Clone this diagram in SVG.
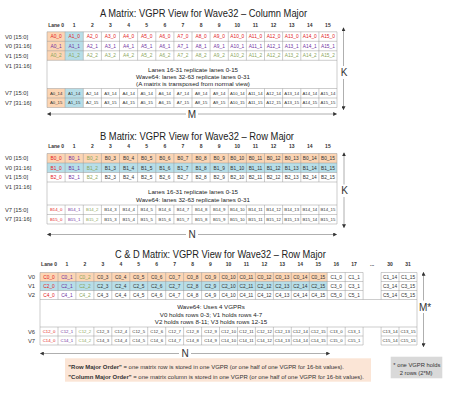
<svg xmlns="http://www.w3.org/2000/svg" width="474" height="394" viewBox="0 0 474 394">
<defs>
<style>
text{font-family:"Liberation Sans",Arial,sans-serif}
.ttl{font-size:10px;fill:#222;text-anchor:middle}
.hd{font-size:5px;font-weight:bold;fill:#333;text-anchor:middle}
.rl{font-size:5.8px;fill:#333}
.c{font-size:4.8px;text-anchor:middle;fill:#333}
.cs{font-size:4.3px;text-anchor:middle;fill:#333}
.r{fill:#e3201b}.p{fill:#7030a0}.o{fill:#8aa55a}
.mt{font-size:6.2px;text-anchor:middle;fill:#222}
.grid{fill:none;stroke:#9a9a9a;stroke-width:0.5}
.ar{stroke:#9a9a9a;stroke-width:0.8;fill:none}
.lbl{font-size:10px;fill:#333;text-anchor:middle}
.nt{font-size:5.8px;fill:#333}
.or{fill:#fcd5b4}.bl{fill:#b7dee8}
</style>
<marker id="ah" viewBox="0 0 6 6" refX="5" refY="3" markerWidth="4" markerHeight="4" orient="auto-start-reverse" markerUnits="userSpaceOnUse"><path d="M0 0L6 3L0 6z" fill="#333"/></marker>
</defs>
<rect width="474" height="394" fill="#fff"/>

<g id="matrixA">
<text class="ttl" x="203.5" y="17" textLength="207" lengthAdjust="spacingAndGlyphs">A Matrix: VGPR View for Wave32 – Column Major</text>
<rect class="or" x="47" y="31.8" width="18.1" height="28.5"/><rect class="or" x="47" y="88.5" width="18.1" height="19"/>
<rect class="bl" x="65.1" y="31.8" width="18.2" height="28.5"/><rect class="bl" x="65.1" y="88.5" width="18.2" height="19"/>
<path class="grid" d="M47 31.8H337V107.5H47ZM47 41.3H337M47 50.8H337M47 60.3H337M47 88.5H337M47 98H337M65.1 31.8V60.3M83.3 31.8V60.3M101.4 31.8V60.3M119.5 31.8V60.3M137.6 31.8V60.3M155.8 31.8V60.3M173.9 31.8V60.3M192 31.8V60.3M210.1 31.8V60.3M228.3 31.8V60.3M246.4 31.8V60.3M264.5 31.8V60.3M282.6 31.8V60.3M300.8 31.8V60.3M318.9 31.8V60.3M65.1 88.5V107.5M83.3 88.5V107.5M101.4 88.5V107.5M119.5 88.5V107.5M137.6 88.5V107.5M155.8 88.5V107.5M173.9 88.5V107.5M192 88.5V107.5M210.1 88.5V107.5M228.3 88.5V107.5M246.4 88.5V107.5M264.5 88.5V107.5M282.6 88.5V107.5M300.8 88.5V107.5M318.9 88.5V107.5"/>
<text class="hd" y="26.8"><tspan x="56.1">Lane 0</tspan><tspan x="74.2">1</tspan><tspan x="92.3">2</tspan><tspan x="110.4">3</tspan><tspan x="128.6">4</tspan><tspan x="146.7">5</tspan><tspan x="164.8">6</tspan><tspan x="182.9">7</tspan><tspan x="201.1">8</tspan><tspan x="219.2">9</tspan><tspan x="237.3">10</tspan><tspan x="255.4">11</tspan><tspan x="273.6">12</tspan><tspan x="291.7">13</tspan><tspan x="309.8">14</tspan><tspan x="327.9">15</tspan></text>
<text class="rl" x="5" y="38.5">V0 [15:0]</text>
<text class="rl" x="5" y="48">V0 [31:16]</text>
<text class="rl" x="5" y="57.5">V1 [15:0]</text>
<text class="rl" x="5" y="67.5">V1 [31:16]</text>
<text class="rl" x="5" y="95.2">V7 [15:0]</text>
<text class="rl" x="5" y="104.7">V7 [31:16]</text>
<text class="c r" y="38.3"><tspan x="56.1">A0_0</tspan><tspan x="74.2">A1_0</tspan><tspan x="92.3">A2_0</tspan><tspan x="110.4">A3_0</tspan><tspan x="128.6">A4_0</tspan><tspan x="146.7">A5_0</tspan><tspan x="164.8">A6_0</tspan><tspan x="182.9">A7_0</tspan><tspan x="201.1">A8_0</tspan><tspan x="219.2">A9_0</tspan><tspan x="237.3">A10_0</tspan><tspan x="255.4">A11_0</tspan><tspan x="273.6">A12_0</tspan><tspan x="291.7">A13_0</tspan><tspan x="309.8">A14_0</tspan><tspan x="327.9">A15_0</tspan></text>
<text class="c p" y="47.8"><tspan x="56.1">A0_1</tspan><tspan x="74.2">A1_1</tspan><tspan x="92.3">A2_1</tspan><tspan x="110.4">A3_1</tspan><tspan x="128.6">A4_1</tspan><tspan x="146.7">A5_1</tspan><tspan x="164.8">A6_1</tspan><tspan x="182.9">A7_1</tspan><tspan x="201.1">A8_1</tspan><tspan x="219.2">A9_1</tspan><tspan x="237.3">A10_1</tspan><tspan x="255.4">A11_1</tspan><tspan x="273.6">A12_1</tspan><tspan x="291.7">A13_1</tspan><tspan x="309.8">A14_1</tspan><tspan x="327.9">A15_1</tspan></text>
<text class="c o" y="57.3"><tspan x="56.1">A0_2</tspan><tspan x="74.2">A1_2</tspan><tspan x="92.3">A2_2</tspan><tspan x="110.4">A3_2</tspan><tspan x="128.6">A4_2</tspan><tspan x="146.7">A5_2</tspan><tspan x="164.8">A6_2</tspan><tspan x="182.9">A7_2</tspan><tspan x="201.1">A8_2</tspan><tspan x="219.2">A9_2</tspan><tspan x="237.3">A10_2</tspan><tspan x="255.4">A11_2</tspan><tspan x="273.6">A12_2</tspan><tspan x="291.7">A13_2</tspan><tspan x="309.8">A14_2</tspan><tspan x="327.9">A15_2</tspan></text>
<text class="mt" x="193" y="72.3">Lanes 16-31 replicate lanes 0-15</text>
<text class="mt" x="193" y="79.2">Wave64: lanes 32-63 replicate lanes 0-31</text>
<text class="mt" x="193" y="86.3">(A matrix is transposed from normal view)</text>
<text class="cs" y="94.9"><tspan x="56.1">A0_14</tspan><tspan x="74.2">A1_14</tspan><tspan x="92.3">A2_14</tspan><tspan x="110.4">A3_14</tspan><tspan x="128.6">A4_14</tspan><tspan x="146.7">A5_14</tspan><tspan x="164.8">A6_14</tspan><tspan x="182.9">A7_14</tspan><tspan x="201.1">A8_14</tspan><tspan x="219.2">A9_14</tspan><tspan x="237.3">A10_14</tspan><tspan x="255.4">A11_14</tspan><tspan x="273.6">A12_14</tspan><tspan x="291.7">A13_14</tspan><tspan x="309.8">A14_14</tspan><tspan x="327.9">A15_14</tspan></text>
<text class="cs" y="104.4"><tspan x="56.1">A0_15</tspan><tspan x="74.2">A1_15</tspan><tspan x="92.3">A2_15</tspan><tspan x="110.4">A3_15</tspan><tspan x="128.6">A4_15</tspan><tspan x="146.7">A5_15</tspan><tspan x="164.8">A6_15</tspan><tspan x="182.9">A7_15</tspan><tspan x="201.1">A8_15</tspan><tspan x="219.2">A9_15</tspan><tspan x="237.3">A10_15</tspan><tspan x="255.4">A11_15</tspan><tspan x="273.6">A12_15</tspan><tspan x="291.7">A13_15</tspan><tspan x="309.8">A14_15</tspan><tspan x="327.9">A15_15</tspan></text>
</g>

<g id="matrixB">
<text class="ttl" x="197" y="140" textLength="194" lengthAdjust="spacingAndGlyphs">B Matrix: VGPR View for Wave32 – Row Major</text>
<rect class="or" x="47" y="153.5" width="290" height="9.5"/>
<rect class="bl" x="47" y="163" width="290" height="9.5"/>
<path class="grid" d="M47 153.5H337V224H47ZM47 163H337M47 172.5H337M47 182H337M47 205H337M47 214.5H337M65.1 153.5V182M83.3 153.5V182M101.4 153.5V182M119.5 153.5V182M137.6 153.5V182M155.8 153.5V182M173.9 153.5V182M192 153.5V182M210.1 153.5V182M228.3 153.5V182M246.4 153.5V182M264.5 153.5V182M282.6 153.5V182M300.8 153.5V182M318.9 153.5V182M65.1 205V224M83.3 205V224M101.4 205V224M119.5 205V224M137.6 205V224M155.8 205V224M173.9 205V224M192 205V224M210.1 205V224M228.3 205V224M246.4 205V224M264.5 205V224M282.6 205V224M300.8 205V224M318.9 205V224"/>
<text class="hd" y="148.4"><tspan x="56.1">Lane 0</tspan><tspan x="74.2">1</tspan><tspan x="92.3">2</tspan><tspan x="110.4">3</tspan><tspan x="128.6">4</tspan><tspan x="146.7">5</tspan><tspan x="164.8">6</tspan><tspan x="182.9">7</tspan><tspan x="201.1">8</tspan><tspan x="219.2">9</tspan><tspan x="237.3">10</tspan><tspan x="255.4">11</tspan><tspan x="273.6">12</tspan><tspan x="291.7">13</tspan><tspan x="309.8">14</tspan><tspan x="327.9">15</tspan></text>
<text class="rl" x="5" y="160.2">V0 [15:0]</text>
<text class="rl" x="5" y="169.7">V0 [31:16]</text>
<text class="rl" x="5" y="179.2">V1 [15:0]</text>
<text class="rl" x="5" y="188.7">V1 [31:16]</text>
<text class="rl" x="5" y="211.7">V7 [15:0]</text>
<text class="rl" x="5" y="221.2">V7 [31:16]</text>
<text class="c" y="160"><tspan x="56.1" class="r">B0_0</tspan><tspan x="74.2" class="p">B0_1</tspan><tspan x="92.3" class="o">B0_2</tspan><tspan x="110.4">B0_3</tspan><tspan x="128.6">B0_4</tspan><tspan x="146.7">B0_5</tspan><tspan x="164.8">B0_6</tspan><tspan x="182.9">B0_7</tspan><tspan x="201.1">B0_8</tspan><tspan x="219.2">B0_9</tspan><tspan x="237.3">B0_10</tspan><tspan x="255.4">B0_11</tspan><tspan x="273.6">B0_12</tspan><tspan x="291.7">B0_13</tspan><tspan x="309.8">B0_14</tspan><tspan x="327.9">B0_15</tspan></text>
<text class="c" y="169.5"><tspan x="56.1" class="r">B1_0</tspan><tspan x="74.2" class="p">B1_1</tspan><tspan x="92.3" class="o">B1_2</tspan><tspan x="110.4">B1_3</tspan><tspan x="128.6">B1_4</tspan><tspan x="146.7">B1_5</tspan><tspan x="164.8">B1_6</tspan><tspan x="182.9">B1_7</tspan><tspan x="201.1">B1_8</tspan><tspan x="219.2">B1_9</tspan><tspan x="237.3">B1_10</tspan><tspan x="255.4">B1_11</tspan><tspan x="273.6">B1_12</tspan><tspan x="291.7">B1_13</tspan><tspan x="309.8">B1_14</tspan><tspan x="327.9">B1_15</tspan></text>
<text class="c" y="179"><tspan x="56.1" class="r">B2_0</tspan><tspan x="74.2" class="p">B2_1</tspan><tspan x="92.3" class="o">B2_2</tspan><tspan x="110.4">B2_3</tspan><tspan x="128.6">B2_4</tspan><tspan x="146.7">B2_5</tspan><tspan x="164.8">B2_6</tspan><tspan x="182.9">B2_7</tspan><tspan x="201.1">B2_8</tspan><tspan x="219.2">B2_9</tspan><tspan x="237.3">B2_10</tspan><tspan x="255.4">B2_11</tspan><tspan x="273.6">B2_12</tspan><tspan x="291.7">B2_13</tspan><tspan x="309.8">B2_14</tspan><tspan x="327.9">B2_15</tspan></text>
<text class="mt" x="193" y="193.8">Lanes 16-31 replicate lanes 0-15</text>
<text class="mt" x="193" y="202.2">Wave64: lanes 32-63 replicate lanes 0-31</text>
<text class="cs" y="211.4"><tspan x="56.1" class="r">B14_0</tspan><tspan x="74.2" class="p">B14_1</tspan><tspan x="92.3" class="o">B14_2</tspan><tspan x="110.4">B14_3</tspan><tspan x="128.6">B14_4</tspan><tspan x="146.7">B14_5</tspan><tspan x="164.8">B14_6</tspan><tspan x="182.9">B14_7</tspan><tspan x="201.1">B14_8</tspan><tspan x="219.2">B14_9</tspan><tspan x="237.3">B14_10</tspan><tspan x="255.4">B14_11</tspan><tspan x="273.6">B14_12</tspan><tspan x="291.7">B14_13</tspan><tspan x="309.8">B14_14</tspan><tspan x="327.9">B14_15</tspan></text>
<text class="cs" y="220.9"><tspan x="56.1" class="r">B15_0</tspan><tspan x="74.2" class="p">B15_1</tspan><tspan x="92.3" class="o">B15_2</tspan><tspan x="110.4">B15_3</tspan><tspan x="128.6">B15_4</tspan><tspan x="146.7">B15_5</tspan><tspan x="164.8">B15_6</tspan><tspan x="182.9">B15_7</tspan><tspan x="201.1">B15_8</tspan><tspan x="219.2">B15_9</tspan><tspan x="237.3">B15_10</tspan><tspan x="255.4">B15_11</tspan><tspan x="273.6">B15_12</tspan><tspan x="291.7">B15_13</tspan><tspan x="309.8">B15_14</tspan><tspan x="327.9">B15_15</tspan></text>
</g>

<g id="matrixCD">
<text class="ttl" x="220.4" y="258" textLength="210.7" lengthAdjust="spacingAndGlyphs">C &amp; D Matrix: VGPR View for Wave32 – Row Major</text>
<rect class="or" x="40" y="272.5" width="287.2" height="9"/>
<rect class="bl" x="40" y="281.5" width="287.2" height="9"/>
<path class="grid" d="M40 272.5H363.1M40 281.5H363.1M40 290.5H363.1M40 299.5H417M381.1 272.5H417M381.1 281.5H417M381.1 290.5H417M40 327H417M40 336H363.1M40 345H363.1M381.1 336H417M381.1 345H417M40 272.5V345M417 272.5V345M58 272.5V299.5M75.9 272.5V299.5M93.9 272.5V299.5M111.8 272.5V299.5M129.8 272.5V299.5M147.7 272.5V299.5M165.7 272.5V299.5M183.6 272.5V299.5M201.6 272.5V299.5M219.5 272.5V299.5M237.5 272.5V299.5M255.4 272.5V299.5M273.4 272.5V299.5M291.3 272.5V299.5M309.3 272.5V299.5M327.2 272.5V299.5M345.2 272.5V299.5M363.1 272.5V299.5M381.1 272.5V299.5M399 272.5V299.5M58 327V345M75.9 327V345M93.9 327V345M111.8 327V345M129.8 327V345M147.7 327V345M165.7 327V345M183.6 327V345M201.6 327V345M219.5 327V345M237.5 327V345M255.4 327V345M273.4 327V345M291.3 327V345M309.3 327V345M327.2 327V345M345.2 327V345M363.1 327V345M381.1 327V345M399 327V345"/>
<text class="hd" y="266"><tspan x="49">Lane 0</tspan><tspan x="66.9">1</tspan><tspan x="84.9">2</tspan><tspan x="102.8">3</tspan><tspan x="120.8">4</tspan><tspan x="138.7">5</tspan><tspan x="156.7">6</tspan><tspan x="174.6">7</tspan><tspan x="192.6">8</tspan><tspan x="210.5">9</tspan><tspan x="228.5">10</tspan><tspan x="246.4">11</tspan><tspan x="264.4">12</tspan><tspan x="282.3">13</tspan><tspan x="300.3">14</tspan><tspan x="318.2">15</tspan><tspan x="336.2">16</tspan><tspan x="354.1">17</tspan><tspan x="372.1">...</tspan><tspan x="390">30</tspan><tspan x="408">31</tspan></text>
<text class="rl" x="28" y="279">V0</text>
<text class="rl" x="28" y="288">V1</text>
<text class="rl" x="28" y="297">V2</text>
<text class="rl" x="28" y="333.5">V6</text>
<text class="rl" x="28" y="342.5">V7</text>
<text class="c" y="278.7"><tspan x="49" class="r">C0_0</tspan><tspan x="66.9" class="p">C0_1</tspan><tspan x="84.9" class="o">C0_2</tspan><tspan x="102.8">C0_3</tspan><tspan x="120.8">C0_4</tspan><tspan x="138.7">C0_5</tspan><tspan x="156.7">C0_6</tspan><tspan x="174.6">C0_7</tspan><tspan x="192.6">C0_8</tspan><tspan x="210.5">C0_9</tspan><tspan x="228.5">C0_10</tspan><tspan x="246.4">C0_11</tspan><tspan x="264.4">C0_12</tspan><tspan x="282.3">C0_13</tspan><tspan x="300.3">C0_14</tspan><tspan x="318.2">C0_15</tspan><tspan x="336.2">C1_0</tspan><tspan x="354.1">C1_1</tspan><tspan x="390">C1_14</tspan><tspan x="408">C1_15</tspan></text>
<text class="c" y="287.7"><tspan x="49" class="r">C2_0</tspan><tspan x="66.9" class="p">C2_1</tspan><tspan x="84.9" class="o">C2_2</tspan><tspan x="102.8">C2_3</tspan><tspan x="120.8">C2_4</tspan><tspan x="138.7">C2_5</tspan><tspan x="156.7">C2_6</tspan><tspan x="174.6">C2_7</tspan><tspan x="192.6">C2_8</tspan><tspan x="210.5">C2_9</tspan><tspan x="228.5">C2_10</tspan><tspan x="246.4">C2_11</tspan><tspan x="264.4">C2_12</tspan><tspan x="282.3">C2_13</tspan><tspan x="300.3">C2_14</tspan><tspan x="318.2">C2_15</tspan><tspan x="336.2">C3_0</tspan><tspan x="354.1">C3_1</tspan><tspan x="390">C3_14</tspan><tspan x="408">C3_15</tspan></text>
<text class="c" y="296.7"><tspan x="49" class="r">C4_0</tspan><tspan x="66.9" class="p">C4_1</tspan><tspan x="84.9" class="o">C4_2</tspan><tspan x="102.8">C4_3</tspan><tspan x="120.8">C4_4</tspan><tspan x="138.7">C4_5</tspan><tspan x="156.7">C4_6</tspan><tspan x="174.6">C4_7</tspan><tspan x="192.6">C4_8</tspan><tspan x="210.5">C4_9</tspan><tspan x="228.5">C4_10</tspan><tspan x="246.4">C4_11</tspan><tspan x="264.4">C4_12</tspan><tspan x="282.3">C4_13</tspan><tspan x="300.3">C4_14</tspan><tspan x="318.2">C4_15</tspan><tspan x="336.2">C5_0</tspan><tspan x="354.1">C5_1</tspan><tspan x="390">C5_14</tspan><tspan x="408">C5_15</tspan></text>
<text class="mt" x="211" y="308.8">Wave64:  Uses 4 VGPRs</text>
<text class="mt" x="211" y="316.9">V0 holds rows 0-3;  V1 holds rows 4-7</text>
<text class="mt" x="211" y="324">V2 holds rows 8-11;  V3 holds rows 12-15</text>
<text class="cs" y="333.2"><tspan x="49" class="r">C12_0</tspan><tspan x="66.9" class="p">C12_1</tspan><tspan x="84.9" class="o">C12_2</tspan><tspan x="102.8">C12_3</tspan><tspan x="120.8">C12_4</tspan><tspan x="138.7">C12_5</tspan><tspan x="156.7">C12_6</tspan><tspan x="174.6">C12_7</tspan><tspan x="192.6">C12_8</tspan><tspan x="210.5">C12_9</tspan><tspan x="228.5">C12_10</tspan><tspan x="246.4">C12_11</tspan><tspan x="264.4">C12_12</tspan><tspan x="282.3">C12_13</tspan><tspan x="300.3">C12_14</tspan><tspan x="318.2">C12_15</tspan><tspan x="336.2">C13_0</tspan><tspan x="354.1">C13_1</tspan><tspan x="390">C13_14</tspan><tspan x="408">C13_15</tspan></text>
<text class="cs" y="342.2"><tspan x="49" class="r">C14_0</tspan><tspan x="66.9" class="p">C14_1</tspan><tspan x="84.9" class="o">C14_2</tspan><tspan x="102.8">C14_3</tspan><tspan x="120.8">C14_4</tspan><tspan x="138.7">C14_5</tspan><tspan x="156.7">C14_6</tspan><tspan x="174.6">C14_7</tspan><tspan x="192.6">C14_8</tspan><tspan x="210.5">C14_9</tspan><tspan x="228.5">C14_10</tspan><tspan x="246.4">C14_11</tspan><tspan x="264.4">C14_12</tspan><tspan x="282.3">C14_13</tspan><tspan x="300.3">C14_14</tspan><tspan x="318.2">C14_15</tspan><tspan x="336.2">C15_0</tspan><tspan x="354.1">C15_1</tspan><tspan x="390">C15_14</tspan><tspan x="408">C15_15</tspan></text>
</g>

<g id="notes">
<rect x="65" y="358.3" width="306" height="23.4" fill="#fbe5d6"/>
<text class="nt" x="68.3" y="368.8" textLength="275.7" lengthAdjust="spacingAndGlyphs"><tspan font-weight="bold">"Row Major Order"</tspan> = one matrix row is stored in one VGPR (or one half of one VGPR for 16-bit values).</text>
<text class="nt" x="68.3" y="378.8" textLength="295.7" lengthAdjust="spacingAndGlyphs"><tspan font-weight="bold">"Column Major Order"</tspan> = one matrix column is stored in one VGPR (or one half of one VGPR for 16-bit values).</text>
</g>
<g id="footnote">
<rect x="390.7" y="356.7" width="51.6" height="21.6" fill="#d9d9d9"/>
<text class="nt" x="393.3" y="367" font-size="6">* one VGPR holds</text>
<text class="nt" x="399.7" y="375.4" font-size="6">2 rows (2*M)</text>
</g>

<g id="connectors">
<line class="ar" x1="343.5" y1="28" x2="343.5" y2="66" marker-start="url(#ah)"/>
<line class="ar" x1="343.5" y1="79" x2="343.5" y2="109.5" marker-end="url(#ah)"/>
<text class="lbl" x="344" y="75.8">K</text>
<line class="ar" x1="47.5" y1="114" x2="186" y2="114" marker-start="url(#ah)"/>
<line class="ar" x1="198" y1="114" x2="336.5" y2="114" marker-end="url(#ah)"/>
<text class="lbl" x="192" y="117.6">M</text>
<line class="ar" x1="344" y1="153" x2="344" y2="184.5" marker-start="url(#ah)"/>
<line class="ar" x1="344" y1="197" x2="344" y2="227.5" marker-end="url(#ah)"/>
<text class="lbl" x="344.5" y="194">K</text>
<line class="ar" x1="47.5" y1="234.5" x2="186" y2="234.5" marker-start="url(#ah)"/>
<line class="ar" x1="198" y1="234.5" x2="336.5" y2="234.5" marker-end="url(#ah)"/>
<text class="lbl" x="192" y="238">N</text>
<line class="ar" x1="423.5" y1="272.5" x2="423.5" y2="300.5" marker-start="url(#ah)"/>
<line class="ar" x1="423.5" y1="313" x2="423.5" y2="346.5" marker-end="url(#ah)"/>
<text class="lbl" x="425" y="310.5">M*</text>
<line class="ar" x1="40.5" y1="353.5" x2="179" y2="353.5" marker-start="url(#ah)"/>
<line class="ar" x1="191" y1="353.5" x2="329.5" y2="353.5" marker-end="url(#ah)"/>
<text class="lbl" x="185" y="357">N</text>
</g>
</svg>
